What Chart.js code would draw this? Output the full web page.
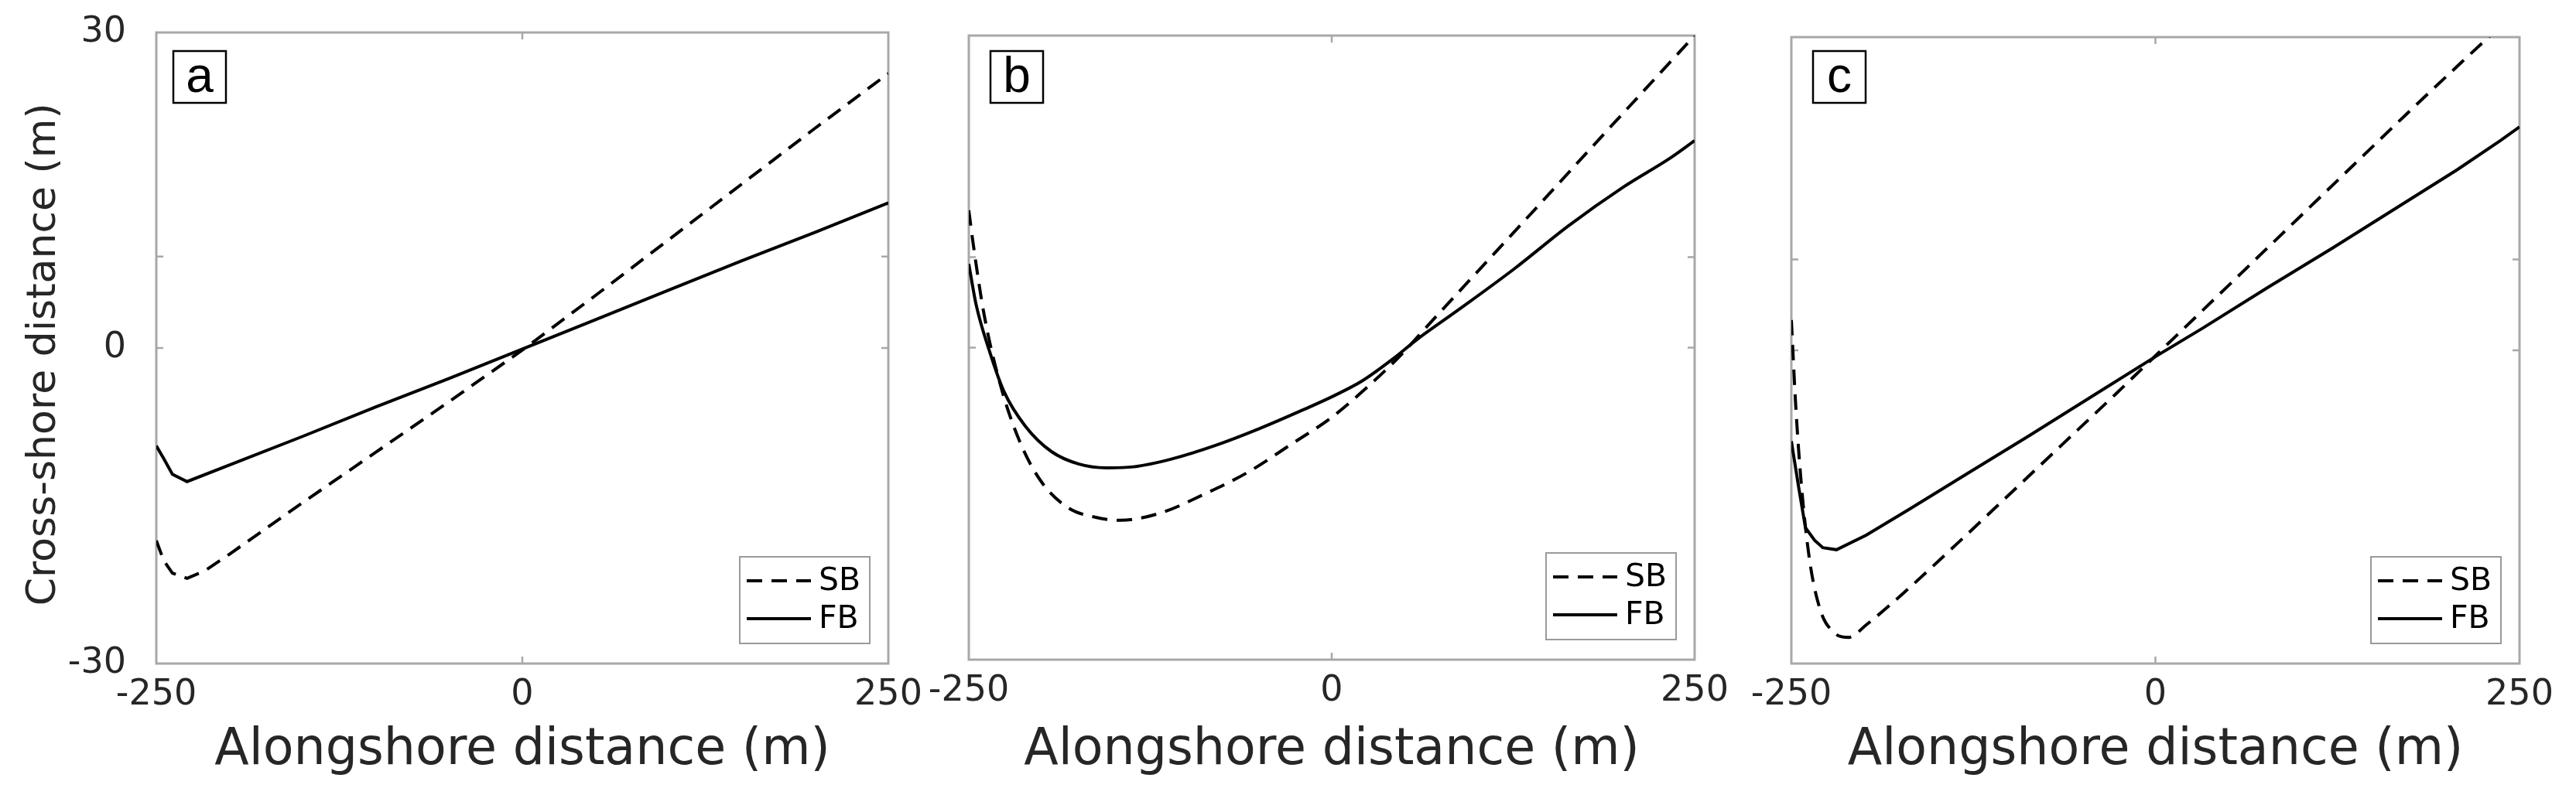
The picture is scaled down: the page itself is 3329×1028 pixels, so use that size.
<!DOCTYPE html>
<html><head><meta charset="utf-8">
<script src="https://cdn.jsdelivr.net/npm/chart.js@4/dist/chart.umd.min.js"></script>
<style>
html,body{margin:0;padding:0;background:#fff;width:3329px;height:1028px;overflow:hidden;}
.p{position:absolute;top:0;height:1028px;}
</style></head><body>
<div class="p" id="wa"><canvas id="ca"></canvas></div>
<div class="p" id="wb"><canvas id="cb"></canvas></div>
<div class="p" id="wc"><canvas id="cc"></canvas></div>
<script>
// ---------- data ----------
const panelLabels = ['a', 'b', 'c'];
const seriesNames = ['SB', 'FB'];
const xTickValues = [-250, 0, 250];
const yTickValues = [-30, 0, 8.7, 30];
const yTickLabelValues = [-30, 0, 30];
const xTitle = 'Alongshore distance (m)';
const yTitle = 'Cross-shore distance (m)';

// panel a
const aSbX = [-250, -245, -239, -229, -217, -200, -150, -100, -50, 0, 50, 100, 150, 200, 250];
const aSbY = [-18.3, -20.2, -21.4, -21.9, -21.2, -19.6, -14.7, -9.9, -5.1, -0.2, 5.0, 10.3, 15.6, 20.9, 26.1];
const aFbX = [-250, -245, -239, -229, -150, -100, -50, 0, 50, 100, 150, 200, 250];
const aFbY = [-9.3, -10.5, -12.0, -12.7, -8.4, -5.6, -2.9, -0.1, 2.7, 5.5, 8.3, 11.0, 13.8];

// panel b
const bSbX = [-250, -247, -239.5, -228, -215, -200, -181.5, -163, -146, -118, -88, -58, -28, 0, 24.5, 47, 70, 107, 144, 182, 219, 250];
const bSbY = [13.2, 10.0, 3.2, -3.7, -9.0, -12.9, -15.4, -16.3, -16.6, -15.9, -14.1, -12.0, -9.3, -6.7, -3.8, -0.8, 2.7, 8.3, 13.9, 19.7, 25.3, 30.0];
const bFbX = [-250, -245, -236, -226, -211, -193, -174, -155, -136.5, -110, -80, -50, -20, 2, 21, 43, 58, 88, 126, 163, 200.5, 234, 250];
const bFbY = [8.05, 4.15, -0.24, -4.15, -7.56, -10.0, -11.2, -11.56, -11.46, -10.7, -9.4, -7.8, -6.0, -4.6, -3.2, -1.0, 0.7, 3.7, 7.6, 11.7, 15.4, 18.3, 19.9];

// panel c
const cSbX = [-250, -247, -243.3, -237.7, -230.3, -221, -210.5, -198.6, -172.6, -135.3, -101.8, -64.6, -27.4, 2.4, 28.5, 62, 99.2, 136.4, 173.7, 207.2, 229.5, 250];
const cSbY = [2.9, -5.3, -12.6, -19.9, -24.8, -27.0, -27.5, -26.3, -23.2, -18.4, -14.0, -9.1, -4.2, -0.2, 3.3, 7.8, 12.8, 17.8, 22.8, 27.2, 30.1, 32.8];
const cFbX = [-250, -245, -240.3, -234, -228.4, -219, -198.6, -168.8, -128, -87, -42.3, 2.4, 32.2, 76.9, 121.6, 166.2, 207.2, 237, 250];
const cFbY = [-8.7, -13.1, -17.0, -18.2, -18.9, -19.1, -17.7, -15.2, -11.7, -8.2, -4.3, -0.4, 2.1, 6.0, 9.8, 13.7, 17.3, 20.1, 21.4];

// ---------- layout ----------
const H = 1028;
const panels = [
  {cv:'ca', wrap:'wa', label:panelLabels[0], L:202, R:1148, T:42, B:858, YW:202, showY:true, boxDx:22, boxDy:24, sb:[aSbX,aSbY], fb:[aFbX,aFbY], smoothSb:false, smoothFb:false},
  {cv:'cb', wrap:'wb', label:panelLabels[1], L:1252, R:2190, T:46, B:853, YW:150, showY:false, boxDx:28, boxDy:20, sb:[bSbX,bSbY], fb:[bFbX,bFbY], smoothSb:true, smoothFb:true},
  {cv:'cc', wrap:'wc', label:panelLabels[2], L:2315, R:3256, T:48, B:858, YW:150, showY:false, boxDx:28, boxDy:18, sb:[cSbX,cSbY], fb:[cFbX,cFbY], smoothSb:true, smoothFb:false},
];
const RP = 60;
const GRAY = '#a8a8a8';
const TXT = '#262626';

const pts = (xs, ys) => xs.map((x, i) => ({x: x, y: ys[i]}));

const deco = {
  id: 'deco',
  beforeDatasetsDraw(chart, args, o) {
    const ctx = chart.ctx, a = chart.chartArea;
    ctx.save();
    ctx.strokeStyle = GRAY; ctx.lineWidth = 3;
    ctx.strokeRect(a.left, a.top, a.right - a.left, a.bottom - a.top);
    ctx.lineWidth = 2.5;
    const xs = chart.scales.x, ys = chart.scales.y;
    const tl = 9;
    ctx.beginPath();
    xs.ticks.forEach(t => {
      const px = xs.getPixelForValue(t.value);
      if (px <= a.left + 2 || px >= a.right - 2) return;
      ctx.moveTo(px, a.bottom); ctx.lineTo(px, a.bottom - tl);
      ctx.moveTo(px, a.top); ctx.lineTo(px, a.top + tl);
    });
    ys.ticks.forEach(t => {
      const py = ys.getPixelForValue(t.value);
      if (py <= a.top + 2 || py >= a.bottom - 2) return;
      ctx.moveTo(a.left, py); ctx.lineTo(a.left + tl, py);
      ctx.moveTo(a.right, py); ctx.lineTo(a.right - tl, py);
    });
    ctx.stroke();
    ctx.restore();
  },
  afterDraw(chart, args, o) {
    const ctx = chart.ctx, a = chart.chartArea;
    ctx.save();
    // panel label box
    const bx = a.left + o.boxDx, by = a.top + o.boxDy, bw = 68, bh = 67;
    ctx.fillStyle = '#fff';
    ctx.fillRect(bx, by, bw, bh);
    ctx.strokeStyle = '#000'; ctx.lineWidth = 2.5;
    ctx.strokeRect(bx, by, bw, bh);
    ctx.fillStyle = '#000';
    ctx.font = '64px "Liberation Sans", Arial, sans-serif';
    ctx.textAlign = 'center'; ctx.textBaseline = 'middle';
    ctx.fillText(o.label, bx + bw / 2, by + bh / 2 + 2);
    // legend box
    const lw = 168, lh = 112;
    const lx = a.right - 24 - lw, ly = a.bottom - 26 - lh;
    ctx.fillStyle = '#fff';
    ctx.fillRect(lx, ly, lw, lh);
    ctx.strokeStyle = '#9a9a9a'; ctx.lineWidth = 2;
    ctx.strokeRect(lx, ly, lw, lh);
    ctx.font = '41px "DejaVu Sans", sans-serif';
    ctx.textAlign = 'left'; ctx.textBaseline = 'middle';
    chart.data.datasets.forEach((ds, i) => {
      const yy = ly + 31 + i * 49;
      ctx.strokeStyle = ds.borderColor; ctx.lineWidth = ds.borderWidth;
      ctx.setLineDash(ds.borderDash || []);
      ctx.beginPath(); ctx.moveTo(lx + 9, yy); ctx.lineTo(lx + 92, yy); ctx.stroke();
      ctx.setLineDash([]);
      ctx.fillStyle = '#000';
      ctx.fillText(ds.label, lx + 102, yy + 1);
    });
    ctx.restore();
  }
};

panels.forEach(p => {
  const wrap = document.getElementById(p.wrap);
  const W = p.R - p.L + p.YW + RP;
  wrap.style.left = (p.L - p.YW) + 'px';
  wrap.style.width = W + 'px';
  const mk = (lbl, arr, dash, smooth) => ({
    label: lbl, data: pts(arr[0], arr[1]),
    borderColor: '#000', borderWidth: 4, borderDash: dash,
    pointRadius: 0, fill: false, clip: 0,
    tension: 0, cubicInterpolationMode: smooth ? 'monotone' : 'default'
  });
  new Chart(document.getElementById(p.cv), {
    type: 'line',
    data: { datasets: [ mk(seriesNames[0], p.sb, [20, 12], p.smoothSb), mk(seriesNames[1], p.fb, [], p.smoothFb) ] },
    options: {
      responsive: true, maintainAspectRatio: false, animation: false,
      layout: { padding: { left: 0, right: RP, top: p.T, bottom: 0 } },
      plugins: {
        legend: { display: false }, tooltip: { enabled: false },
        deco: { label: p.label, boxDx: p.boxDx, boxDy: p.boxDy }
      },
      scales: {
        x: {
          type: 'linear', min: -250, max: 250, position: 'bottom',
          afterBuildTicks: s => { s.ticks = xTickValues.map(v => ({value: v})); },
          afterFit: s => { s.height = H - p.B; s.paddingLeft = 0; s.paddingRight = 0; },
          grid: { display: false, drawTicks: false },
          border: { display: false },
          ticks: { padding: 13, maxRotation: 0, autoSkip: false, color: TXT,
                   font: { family: 'DejaVu Sans', size: 46 },
                   callback: v => String(v) },
          title: { display: true, text: xTitle, color: TXT,
                   font: { family: 'DejaVu Sans', size: 65 },
                   padding: { top: 0, bottom: 18 } }
        },
        y: {
          type: 'linear', min: -30, max: 30, position: 'left',
          afterBuildTicks: s => { s.ticks = yTickValues.map(v => ({value: v})); },
          afterFit: s => { s.width = p.YW; s.paddingTop = 0; s.paddingBottom = 0; },
          grid: { display: false, drawTicks: false },
          border: { display: false },
          ticks: { padding: 39, autoSkip: false, color: TXT,
                   font: { family: 'DejaVu Sans', size: 46 },
                   callback: v => (p.showY && yTickLabelValues.includes(v)) ? String(v) : '' },
          title: { display: p.showY, text: yTitle + ' ', color: TXT,
                   font: { family: 'DejaVu Sans', size: 52 },
                   padding: { top: 26, bottom: 0 } }
        }
      }
    },
    plugins: [deco]
  });
});
</script>
</body></html>
